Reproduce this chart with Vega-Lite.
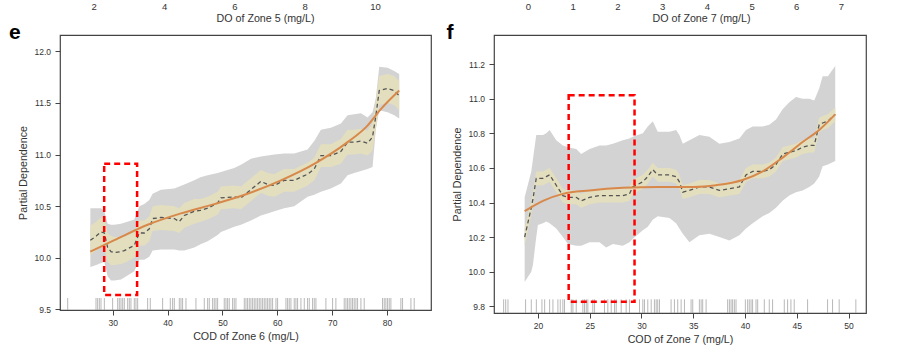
{
  "$schema": "https://vega.github.io/schema/vega-lite/v6.json",
  "background": "white",
  "padding": {"left": 8, "top": 0, "right": 0, "bottom": 0},
  "spacing": 10,
  "config": {
    "font": "Liberation Sans",
    "view": {"stroke": "#444", "strokeWidth": 1.2},
    "axis": {
      "labelFont": "Liberation Sans", "titleFont": "Liberation Sans",
      "labelFontSize": 8.5, "titleFontSize": 10.7, "titleFontWeight": "normal",
      "labelColor": "#333", "titleColor": "#333", "tickColor": "#444",
      "tickSize": 5, "grid": false, "domain": false, "labelPadding": 4.5, "labelOverlap": false
    }
  },
  "datasets": {
    "doE": [{"do": 1.04}, {"do": 11.59}],
    "doF": [{"do": -0.76}, {"do": 7.56}],
    "bandE": [
      {"x": 25.93, "pd": 10.17, "ghi": 10.48, "glo": 9.91, "bhi": 10.31, "blo": 10.03},
      {"x": 27.0, "pd": 10.21, "ghi": 10.48, "glo": 9.93, "bhi": 10.35, "blo": 10.07},
      {"x": 27.87, "pd": 10.25, "ghi": 10.48, "glo": 9.95, "bhi": 10.39, "blo": 10.11},
      {"x": 28.48, "pd": 10.24, "ghi": 10.45, "glo": 9.96, "bhi": 10.38, "blo": 10.10},
      {"x": 29.08, "pd": 10.10, "ghi": 10.33, "glo": 9.82, "bhi": 10.24, "blo": 9.96},
      {"x": 29.69, "pd": 10.06, "ghi": 10.32, "glo": 9.78, "bhi": 10.21, "blo": 9.93},
      {"x": 30.30, "pd": 10.05, "ghi": 10.32, "glo": 9.78, "bhi": 10.20, "blo": 9.93},
      {"x": 31.51, "pd": 10.06, "ghi": 10.33, "glo": 9.79, "bhi": 10.20, "blo": 9.94},
      {"x": 32.12, "pd": 10.07, "ghi": 10.34, "glo": 9.81, "bhi": 10.20, "blo": 9.95},
      {"x": 33.94, "pd": 10.12, "ghi": 10.37, "glo": 9.87, "bhi": 10.25, "blo": 10.00},
      {"x": 34.85, "pd": 10.24, "ghi": 10.50, "glo": 9.98, "bhi": 10.36, "blo": 10.12},
      {"x": 35.76, "pd": 10.24, "ghi": 10.52, "glo": 9.98, "bhi": 10.36, "blo": 10.12},
      {"x": 36.67, "pd": 10.28, "ghi": 10.56, "glo": 10.01, "bhi": 10.40, "blo": 10.16},
      {"x": 37.28, "pd": 10.38, "ghi": 10.62, "glo": 10.07, "bhi": 10.50, "blo": 10.26},
      {"x": 38.80, "pd": 10.39, "ghi": 10.66, "glo": 10.08, "bhi": 10.51, "blo": 10.27},
      {"x": 41.23, "pd": 10.38, "ghi": 10.67, "glo": 10.08, "bhi": 10.50, "blo": 10.26},
      {"x": 42.14, "pd": 10.35, "ghi": 10.69, "glo": 10.07, "bhi": 10.48, "blo": 10.24},
      {"x": 43.05, "pd": 10.41, "ghi": 10.71, "glo": 10.07, "bhi": 10.53, "blo": 10.29},
      {"x": 44.87, "pd": 10.45, "ghi": 10.75, "glo": 10.10, "bhi": 10.57, "blo": 10.33},
      {"x": 46.00, "pd": 10.46, "ghi": 10.78, "glo": 10.13, "bhi": 10.57, "blo": 10.35},
      {"x": 47.30, "pd": 10.48, "ghi": 10.80, "glo": 10.16, "bhi": 10.59, "blo": 10.37},
      {"x": 49.12, "pd": 10.53, "ghi": 10.82, "glo": 10.22, "bhi": 10.64, "blo": 10.42},
      {"x": 49.73, "pd": 10.58, "ghi": 10.83, "glo": 10.25, "bhi": 10.69, "blo": 10.47},
      {"x": 52.15, "pd": 10.59, "ghi": 10.87, "glo": 10.30, "bhi": 10.70, "blo": 10.48},
      {"x": 53.37, "pd": 10.58, "ghi": 10.90, "glo": 10.32, "bhi": 10.69, "blo": 10.47},
      {"x": 55.19, "pd": 10.66, "ghi": 10.96, "glo": 10.36, "bhi": 10.77, "blo": 10.55},
      {"x": 57.01, "pd": 10.74, "ghi": 10.98, "glo": 10.41, "bhi": 10.85, "blo": 10.63},
      {"x": 58.23, "pd": 10.71, "ghi": 10.99, "glo": 10.43, "bhi": 10.82, "blo": 10.60},
      {"x": 59.44, "pd": 10.70, "ghi": 11.00, "glo": 10.45, "bhi": 10.81, "blo": 10.59},
      {"x": 61.26, "pd": 10.75, "ghi": 11.01, "glo": 10.48, "bhi": 10.86, "blo": 10.64},
      {"x": 63.08, "pd": 10.75, "ghi": 11.01, "glo": 10.50, "bhi": 10.86, "blo": 10.64},
      {"x": 65.51, "pd": 10.81, "ghi": 11.05, "glo": 10.59, "bhi": 10.92, "blo": 10.70},
      {"x": 66.73, "pd": 10.86, "ghi": 11.13, "glo": 10.61, "bhi": 10.97, "blo": 10.75},
      {"x": 67.94, "pd": 10.99, "ghi": 11.24, "glo": 10.64, "bhi": 11.10, "blo": 10.88},
      {"x": 69.76, "pd": 10.99, "ghi": 11.26, "glo": 10.67, "bhi": 11.10, "blo": 10.88},
      {"x": 71.58, "pd": 11.03, "ghi": 11.30, "glo": 10.72, "bhi": 11.15, "blo": 10.91},
      {"x": 72.80, "pd": 11.12, "ghi": 11.38, "glo": 10.80, "bhi": 11.24, "blo": 11.00},
      {"x": 74.01, "pd": 11.12, "ghi": 11.39, "glo": 10.82, "bhi": 11.24, "blo": 11.00},
      {"x": 75.23, "pd": 11.13, "ghi": 11.40, "glo": 10.84, "bhi": 11.25, "blo": 11.01},
      {"x": 76.44, "pd": 11.11, "ghi": 11.36, "glo": 10.86, "bhi": 11.23, "blo": 10.99},
      {"x": 77.35, "pd": 11.17, "ghi": 11.41, "glo": 10.88, "bhi": 11.30, "blo": 11.04},
      {"x": 77.96, "pd": 11.38, "ghi": 11.55, "glo": 11.25, "bhi": 11.52, "blo": 11.25},
      {"x": 78.57, "pd": 11.62, "ghi": 11.85, "glo": 11.43, "bhi": 11.76, "blo": 11.48},
      {"x": 80.09, "pd": 11.64, "ghi": 11.84, "glo": 11.41, "bhi": 11.78, "blo": 11.50},
      {"x": 81.30, "pd": 11.62, "ghi": 11.81, "glo": 11.38, "bhi": 11.76, "blo": 11.48},
      {"x": 82.21, "pd": 11.57, "ghi": 11.78, "glo": 11.35, "bhi": 11.71, "blo": 11.43}
    ],
    "fitE": [
      {"x": 25.93, "fit": 10.06}, {"x": 30.30, "fit": 10.17}, {"x": 36.37, "fit": 10.32},
      {"x": 42.44, "fit": 10.43}, {"x": 48.51, "fit": 10.52}, {"x": 54.58, "fit": 10.62},
      {"x": 60.66, "fit": 10.75}, {"x": 66.73, "fit": 10.91}, {"x": 72.80, "fit": 11.12},
      {"x": 76.44, "fit": 11.28}, {"x": 78.87, "fit": 11.44}, {"x": 82.21, "fit": 11.62}
    ],
    "rugE": [
      {"x": 21.8}, {"x": 26.96}, {"x": 27.26}, {"x": 27.57}, {"x": 27.87}, {"x": 28.48}, {"x": 29.99},
      {"x": 30.91}, {"x": 31.21}, {"x": 31.51}, {"x": 31.82}, {"x": 32.12}, {"x": 32.73}, {"x": 33.03},
      {"x": 33.33}, {"x": 33.94}, {"x": 34.24}, {"x": 34.55}, {"x": 36.37}, {"x": 36.85}, {"x": 39.10},
      {"x": 40.50}, {"x": 40.92}, {"x": 41.23}, {"x": 42.14}, {"x": 42.44}, {"x": 42.74}, {"x": 43.35},
      {"x": 45.17}, {"x": 46.69}, {"x": 47.30}, {"x": 47.60}, {"x": 48.21}, {"x": 48.51}, {"x": 48.82},
      {"x": 49.12}, {"x": 50.33}, {"x": 50.64}, {"x": 50.94}, {"x": 51.24}, {"x": 51.85}, {"x": 52.15},
      {"x": 52.46}, {"x": 53.98}, {"x": 54.28}, {"x": 54.58}, {"x": 54.89}, {"x": 55.19}, {"x": 55.50},
      {"x": 55.80}, {"x": 56.10}, {"x": 56.41}, {"x": 56.71}, {"x": 57.01}, {"x": 57.32}, {"x": 57.62},
      {"x": 57.92}, {"x": 58.23}, {"x": 58.53}, {"x": 58.83}, {"x": 59.14}, {"x": 59.75}, {"x": 60.05},
      {"x": 61.57}, {"x": 61.87}, {"x": 62.17}, {"x": 62.48}, {"x": 63.08}, {"x": 63.39}, {"x": 63.69},
      {"x": 64.30}, {"x": 64.91}, {"x": 65.51}, {"x": 65.82}, {"x": 66.42}, {"x": 66.73}, {"x": 67.03},
      {"x": 68.85}, {"x": 70.07}, {"x": 70.67}, {"x": 72.19}, {"x": 72.50}, {"x": 72.80}, {"x": 73.10},
      {"x": 73.41}, {"x": 73.71}, {"x": 74.01}, {"x": 74.32}, {"x": 74.62}, {"x": 75.23}, {"x": 75.83},
      {"x": 79.17}, {"x": 79.48}, {"x": 79.78}, {"x": 80.09}, {"x": 80.39}, {"x": 80.69}, {"x": 82.51},
      {"x": 82.82}, {"x": 84.34}, {"x": 84.94}
    ],
    "boxE": [{"x1": 28.45, "x2": 34.45, "y1": 9.64, "y2": 10.91}],
    "bandF": [
      {"x": 18.72, "pd": 10.20, "ghi": 10.43, "glo": 9.94, "bhi": 10.25, "blo": 10.15},
      {"x": 19.36, "pd": 10.37, "ghi": 10.58, "glo": 10.00, "bhi": 10.41, "blo": 10.33},
      {"x": 19.52, "pd": 10.42, "ghi": 10.65, "glo": 10.04, "bhi": 10.46, "blo": 10.38},
      {"x": 19.84, "pd": 10.54, "ghi": 10.79, "glo": 10.20, "bhi": 10.58, "blo": 10.50},
      {"x": 20.00, "pd": 10.54, "ghi": 10.79, "glo": 10.27, "bhi": 10.58, "blo": 10.50},
      {"x": 20.49, "pd": 10.54, "ghi": 10.79, "glo": 10.28, "bhi": 10.58, "blo": 10.50},
      {"x": 20.81, "pd": 10.55, "ghi": 10.80, "glo": 10.29, "bhi": 10.59, "blo": 10.51},
      {"x": 21.13, "pd": 10.56, "ghi": 10.82, "glo": 10.28, "bhi": 10.60, "blo": 10.52},
      {"x": 21.77, "pd": 10.50, "ghi": 10.76, "glo": 10.25, "bhi": 10.54, "blo": 10.46},
      {"x": 22.41, "pd": 10.44, "ghi": 10.73, "glo": 10.20, "bhi": 10.48, "blo": 10.40},
      {"x": 22.90, "pd": 10.43, "ghi": 10.72, "glo": 10.16, "bhi": 10.47, "blo": 10.39},
      {"x": 23.70, "pd": 10.43, "ghi": 10.71, "glo": 10.15, "bhi": 10.47, "blo": 10.39},
      {"x": 24.18, "pd": 10.41, "ghi": 10.68, "glo": 10.15, "bhi": 10.45, "blo": 10.37},
      {"x": 24.99, "pd": 10.43, "ghi": 10.71, "glo": 10.17, "bhi": 10.47, "blo": 10.39},
      {"x": 25.95, "pd": 10.44, "ghi": 10.73, "glo": 10.17, "bhi": 10.48, "blo": 10.40},
      {"x": 26.59, "pd": 10.44, "ghi": 10.73, "glo": 10.14, "bhi": 10.48, "blo": 10.40},
      {"x": 27.24, "pd": 10.44, "ghi": 10.74, "glo": 10.16, "bhi": 10.48, "blo": 10.40},
      {"x": 28.20, "pd": 10.44, "ghi": 10.76, "glo": 10.15, "bhi": 10.48, "blo": 10.40},
      {"x": 28.84, "pd": 10.45, "ghi": 10.77, "glo": 10.17, "bhi": 10.49, "blo": 10.41},
      {"x": 29.16, "pd": 10.49, "ghi": 10.78, "glo": 10.19, "bhi": 10.53, "blo": 10.45},
      {"x": 30.13, "pd": 10.52, "ghi": 10.80, "glo": 10.24, "bhi": 10.56, "blo": 10.48},
      {"x": 30.61, "pd": 10.55, "ghi": 10.84, "glo": 10.26, "bhi": 10.59, "blo": 10.51},
      {"x": 31.09, "pd": 10.59, "ghi": 10.87, "glo": 10.30, "bhi": 10.63, "blo": 10.55},
      {"x": 31.57, "pd": 10.56, "ghi": 10.81, "glo": 10.32, "bhi": 10.60, "blo": 10.52},
      {"x": 32.70, "pd": 10.56, "ghi": 10.81, "glo": 10.31, "bhi": 10.60, "blo": 10.52},
      {"x": 33.34, "pd": 10.55, "ghi": 10.82, "glo": 10.28, "bhi": 10.59, "blo": 10.51},
      {"x": 33.66, "pd": 10.52, "ghi": 10.79, "glo": 10.25, "bhi": 10.56, "blo": 10.48},
      {"x": 33.99, "pd": 10.46, "ghi": 10.74, "glo": 10.22, "bhi": 10.50, "blo": 10.42},
      {"x": 34.63, "pd": 10.47, "ghi": 10.76, "glo": 10.17, "bhi": 10.51, "blo": 10.43},
      {"x": 35.59, "pd": 10.49, "ghi": 10.79, "glo": 10.21, "bhi": 10.53, "blo": 10.45},
      {"x": 36.56, "pd": 10.49, "ghi": 10.78, "glo": 10.22, "bhi": 10.53, "blo": 10.45},
      {"x": 37.52, "pd": 10.47, "ghi": 10.74, "glo": 10.20, "bhi": 10.51, "blo": 10.43},
      {"x": 38.49, "pd": 10.48, "ghi": 10.75, "glo": 10.18, "bhi": 10.52, "blo": 10.44},
      {"x": 39.45, "pd": 10.49, "ghi": 10.77, "glo": 10.21, "bhi": 10.53, "blo": 10.45},
      {"x": 40.09, "pd": 10.56, "ghi": 10.82, "glo": 10.25, "bhi": 10.60, "blo": 10.52},
      {"x": 40.74, "pd": 10.58, "ghi": 10.84, "glo": 10.28, "bhi": 10.62, "blo": 10.54},
      {"x": 41.70, "pd": 10.58, "ghi": 10.84, "glo": 10.32, "bhi": 10.62, "blo": 10.54},
      {"x": 42.34, "pd": 10.59, "ghi": 10.85, "glo": 10.34, "bhi": 10.63, "blo": 10.55},
      {"x": 42.99, "pd": 10.62, "ghi": 10.88, "glo": 10.37, "bhi": 10.66, "blo": 10.58},
      {"x": 43.63, "pd": 10.68, "ghi": 10.94, "glo": 10.41, "bhi": 10.72, "blo": 10.64},
      {"x": 44.27, "pd": 10.69, "ghi": 10.98, "glo": 10.44, "bhi": 10.73, "blo": 10.65},
      {"x": 44.92, "pd": 10.70, "ghi": 11.01, "glo": 10.46, "bhi": 10.74, "blo": 10.66},
      {"x": 45.56, "pd": 10.72, "ghi": 11.00, "glo": 10.47, "bhi": 10.76, "blo": 10.68},
      {"x": 46.20, "pd": 10.73, "ghi": 11.00, "glo": 10.49, "bhi": 10.77, "blo": 10.69},
      {"x": 46.68, "pd": 10.73, "ghi": 10.99, "glo": 10.51, "bhi": 10.77, "blo": 10.69},
      {"x": 47.16, "pd": 10.85, "ghi": 11.06, "glo": 10.55, "bhi": 10.89, "blo": 10.81},
      {"x": 47.49, "pd": 10.86, "ghi": 11.13, "glo": 10.61, "bhi": 10.90, "blo": 10.82},
      {"x": 48.00, "pd": 10.87, "ghi": 11.13, "glo": 10.62, "bhi": 10.91, "blo": 10.83},
      {"x": 48.71, "pd": 10.91, "ghi": 11.19, "glo": 10.64, "bhi": 10.95, "blo": 10.87}
    ],
    "fitF": [
      {"x": 18.72, "fit": 10.35}, {"x": 20.49, "fit": 10.41}, {"x": 22.41, "fit": 10.45},
      {"x": 24.99, "fit": 10.47}, {"x": 28.20, "fit": 10.485}, {"x": 31.70, "fit": 10.49},
      {"x": 35.00, "fit": 10.49}, {"x": 37.20, "fit": 10.50}, {"x": 39.77, "fit": 10.53},
      {"x": 41.70, "fit": 10.58}, {"x": 43.63, "fit": 10.66}, {"x": 45.56, "fit": 10.75},
      {"x": 47.16, "fit": 10.82}, {"x": 48.71, "fit": 10.91}
    ],
    "rugF": [
      {"x": 16.69}, {"x": 16.89}, {"x": 17.11}, {"x": 18.81}, {"x": 19.36}, {"x": 19.85}, {"x": 20.39},
      {"x": 20.65}, {"x": 21.13}, {"x": 21.45}, {"x": 21.93}, {"x": 22.16}, {"x": 22.41}, {"x": 22.57},
      {"x": 23.22}, {"x": 23.38}, {"x": 23.70}, {"x": 24.34}, {"x": 24.50}, {"x": 24.67}, {"x": 24.82},
      {"x": 25.30}, {"x": 25.47}, {"x": 26.43}, {"x": 26.75}, {"x": 27.08}, {"x": 27.40}, {"x": 27.56},
      {"x": 28.04}, {"x": 28.52}, {"x": 28.84}, {"x": 29.81}, {"x": 30.13}, {"x": 30.29}, {"x": 30.61},
      {"x": 30.94}, {"x": 31.25}, {"x": 31.42}, {"x": 31.57}, {"x": 31.74}, {"x": 32.86}, {"x": 33.18},
      {"x": 33.50}, {"x": 33.83}, {"x": 34.15}, {"x": 34.79}, {"x": 34.95}, {"x": 35.59}, {"x": 35.76},
      {"x": 35.91}, {"x": 36.24}, {"x": 38.32}, {"x": 38.49}, {"x": 38.65}, {"x": 38.80}, {"x": 38.97},
      {"x": 39.13}, {"x": 40.03}, {"x": 40.25}, {"x": 40.41}, {"x": 40.58}, {"x": 40.73}, {"x": 41.06},
      {"x": 41.22}, {"x": 41.86}, {"x": 42.34}, {"x": 42.66}, {"x": 43.79}, {"x": 44.11}, {"x": 44.43},
      {"x": 44.75}, {"x": 46.04}, {"x": 47.97}, {"x": 48.45}, {"x": 49.09}, {"x": 50.70}
    ],
    "boxF": [{"x1": 22.97, "x2": 29.33, "y1": 9.826, "y2": 11.02}]
  },
  "hconcat": [
    {
      "width": 371,
      "height": 275,
      "title": {"text": "e", "anchor": "start", "frame": "bounds", "fontSize": 21, "fontWeight": "bold", "color": "#000", "font": "Liberation Sans", "offset": -40, "dx": -8.5, "dy": 2},
      "resolve": {"scale": {"x": "independent"}, "axis": {"x": "independent"}},
      "layer": [
        {
          "data": {"name": "doE"},
          "mark": {"type": "point", "opacity": 0},
          "encoding": {
            "x": {"field": "do", "type": "quantitative", "scale": {"domain": [1.04, 11.59], "nice": false, "zero": false},
              "axis": {"orient": "top", "values": [2, 4, 6, 8, 10], "tickCount": 12, "format": "d", "ticks": false, "tickSize": 0, "domain": false,
                "labelPadding": 25.7, "labelBaseline": "alphabetic", "labelFlush": false, "labelFontSize": 9.5, "labelOverlap": false,
                "title": "DO of Zone 5  (mg/L)", "titleX": 205, "titleY": -13.5, "titleBaseline": "alphabetic", "titleAlign": "center"}}
          }
        },
        {
          "layer": [
            {
              "data": {"name": "bandE"},
              "mark": {"type": "area", "color": "#d3d3d3"},
              "encoding": {
                "x": {"field": "x", "type": "quantitative", "scale": {"domain": [20.4, 88.0], "nice": false, "zero": false},
                  "axis": {"orient": "bottom", "values": [30, 40, 50, 60, 70, 80], "tickCount": 12, "title": "COD of Zone 6  (mg/L)", "titlePadding": 5, "labelPadding": 3, "labelOverlap": false}},
                "y": {"field": "ghi", "type": "quantitative", "scale": {"domain": [9.494, 12.158], "nice": false, "zero": false},
                  "axis": {"values": [9.5, 10, 10.5, 11, 11.5, 12], "tickCount": 12, "format": ".1f", "title": "Partial Dependence", "titlePadding": 5.5, "labelOverlap": false}},
                "y2": {"field": "glo"}
              }
            },
            {
              "data": {"name": "bandE"},
              "mark": {"type": "area", "color": "#e3dfbe"},
              "encoding": {
                "x": {"field": "x", "type": "quantitative"},
                "y": {"field": "bhi", "type": "quantitative"},
                "y2": {"field": "blo"}
              }
            },
            {
              "data": {"name": "bandE"},
              "mark": {"type": "line", "color": "#555", "strokeWidth": 1.3, "strokeDash": [4, 3]},
              "encoding": {
                "x": {"field": "x", "type": "quantitative"},
                "y": {"field": "pd", "type": "quantitative"}
              }
            },
            {
              "data": {"name": "fitE"},
              "mark": {"type": "line", "color": "#d8884a", "strokeWidth": 2, "interpolate": "monotone"},
              "encoding": {
                "x": {"field": "x", "type": "quantitative"},
                "y": {"field": "fit", "type": "quantitative"}
              }
            },
            {
              "data": {"name": "rugE"},
              "mark": {"type": "rule", "color": "#999", "strokeWidth": 0.7},
              "encoding": {
                "x": {"field": "x", "type": "quantitative"},
                "y": {"datum": 9.494},
                "y2": {"datum": 9.61}
              }
            },
            {
              "data": {"name": "boxE"},
              "mark": {"type": "rect", "fillOpacity": 0, "stroke": "#ff0000", "strokeWidth": 2.5, "strokeDash": [6, 4]},
              "encoding": {
                "x": {"field": "x1", "type": "quantitative"},
                "x2": {"field": "x2"},
                "y": {"field": "y1", "type": "quantitative"},
                "y2": {"field": "y2"}
              }
            }
          ]
        }
      ]
    },
    {
      "width": 372,
      "height": 278,
      "title": {"text": "f", "anchor": "start", "frame": "bounds", "fontSize": 21, "fontWeight": "bold", "color": "#000", "font": "Liberation Sans", "offset": -40, "dx": -5, "dy": 2},
      "resolve": {"scale": {"x": "independent"}, "axis": {"x": "independent"}},
      "layer": [
        {
          "data": {"name": "doF"},
          "mark": {"type": "point", "opacity": 0},
          "encoding": {
            "x": {"field": "do", "type": "quantitative", "scale": {"domain": [-0.76, 7.56], "nice": false, "zero": false},
              "axis": {"orient": "top", "values": [0, 1, 2, 3, 4, 5, 6, 7], "tickCount": 12, "format": "d", "ticks": false, "tickSize": 0, "domain": false,
                "labelPadding": 25.7, "labelBaseline": "alphabetic", "labelFlush": false, "labelFontSize": 9.5, "labelOverlap": false,
                "title": "DO of Zone 7  (mg/L)", "titleX": 207, "titleY": -13.5, "titleBaseline": "alphabetic", "titleAlign": "center"}}
          }
        },
        {
          "layer": [
            {
              "data": {"name": "bandF"},
              "mark": {"type": "area", "color": "#d3d3d3"},
              "encoding": {
                "x": {"field": "x", "type": "quantitative", "scale": {"domain": [15.76, 51.68], "nice": false, "zero": false},
                  "axis": {"orient": "bottom", "values": [20, 25, 30, 35, 40, 45, 50], "tickCount": 12, "title": "COD of Zone 7  (mg/L)", "titlePadding": 5, "labelPadding": 3, "labelOverlap": false}},
                "y": {"field": "ghi", "type": "quantitative", "scale": {"domain": [9.761, 11.369], "nice": false, "zero": false},
                  "axis": {"values": [9.8, 10, 10.2, 10.4, 10.6, 10.8, 11, 11.2], "tickCount": 12, "format": ".1f", "title": "Partial Dependence", "titlePadding": 5.5, "labelOverlap": false}},
                "y2": {"field": "glo"}
              }
            },
            {
              "data": {"name": "bandF"},
              "mark": {"type": "area", "color": "#e3dfbe"},
              "encoding": {
                "x": {"field": "x", "type": "quantitative"},
                "y": {"field": "bhi", "type": "quantitative"},
                "y2": {"field": "blo"}
              }
            },
            {
              "data": {"name": "bandF"},
              "mark": {"type": "line", "color": "#555", "strokeWidth": 1.3, "strokeDash": [4, 3]},
              "encoding": {
                "x": {"field": "x", "type": "quantitative"},
                "y": {"field": "pd", "type": "quantitative"}
              }
            },
            {
              "data": {"name": "fitF"},
              "mark": {"type": "line", "color": "#d8884a", "strokeWidth": 2, "interpolate": "monotone"},
              "encoding": {
                "x": {"field": "x", "type": "quantitative"},
                "y": {"field": "fit", "type": "quantitative"}
              }
            },
            {
              "data": {"name": "rugF"},
              "mark": {"type": "rule", "color": "#999", "strokeWidth": 0.7},
              "encoding": {
                "x": {"field": "x", "type": "quantitative"},
                "y": {"datum": 9.761},
                "y2": {"datum": 9.84}
              }
            },
            {
              "data": {"name": "boxF"},
              "mark": {"type": "rect", "fillOpacity": 0, "stroke": "#ff0000", "strokeWidth": 2.5, "strokeDash": [6, 4]},
              "encoding": {
                "x": {"field": "x1", "type": "quantitative"},
                "x2": {"field": "x2"},
                "y": {"field": "y1", "type": "quantitative"},
                "y2": {"field": "y2"}
              }
            }
          ]
        }
      ]
    }
  ]
}
